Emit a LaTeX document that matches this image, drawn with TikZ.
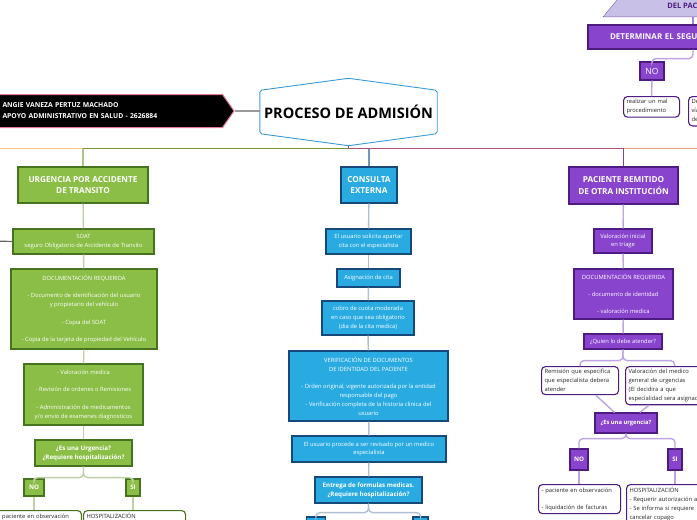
\documentclass[tikz,border=0pt]{standalone}
\usepackage{fontspec}
\setmainfont{Open Sans}
\usepackage{tikz}
\usetikzlibrary{shapes, shapes.geometric, shapes.symbols, positioning, calc}
\definecolor{verde}{RGB}{139, 190, 70}
\definecolor{verdeosc}{RGB}{72, 115, 30}
\definecolor{verdelinea}{RGB}{190, 208, 165}
\definecolor{oliva}{RGB}{122, 150, 50}
\definecolor{azul}{RGB}{41, 171, 226}
\definecolor{azulosc}{RGB}{22, 72, 122}
\definecolor{azullinea}{RGB}{176, 192, 210}
\definecolor{azulbaja}{RGB}{110, 150, 190}
\definecolor{morado}{RGB}{137, 68, 206}
\definecolor{moradoosc}{RGB}{78, 28, 128}
\definecolor{moradolinea}{RGB}{190, 165, 225}
\definecolor{moradobaja}{RGB}{120, 70, 180}
\definecolor{lavanda}{RGB}{200, 192, 230}
\definecolor{granate}{RGB}{176, 80, 110}
\definecolor{salmon}{RGB}{232, 155, 140}
\definecolor{naranja}{RGB}{247, 196, 130}
\definecolor{rosa}{RGB}{232, 120, 150}
\definecolor{borde}{RGB}{58, 154, 217}
\newcommand{\chico}{\fontsize{5.8}{8.8}\selectfont}
\newcommand{\medio}{\bfseries\fontsize{8.2}{11.5}\selectfont}

\begin{document}
\begin{tikzpicture}[x=1pt, y=-1pt,
			box/.style={rectangle, line width=1.1pt, align=center, inner sep=1pt, font=\chico, text=white},
			verdebox/.style={box, draw=verdeosc, fill=verde},
			azulbox/.style={box, draw=azulosc, fill=azul},
			moradobox/.style={box, draw=moradoosc, fill=morado},
			titbox/.style={font=\medio},
			pregunta/.style={font=\bfseries\fontsize{6.2}{9}\selectfont},
			nota/.style={rectangle, rounded corners=4pt, fill=white, line width=1.1pt, align=left,
				inner sep=3pt, font=\chico, text=black!85},
			vline/.style={line width=1.4pt},
			hline/.style={line width=1.6pt}
			]
			\useasboundingbox (0,0) rectangle (697,520);
			
			% titulo y autor
			\node[font=\bfseries\fontsize{14.5}{16}\selectfont, minimum width=177, minimum height=67] (titulo) at (348.5,112) {PROCESO DE ADMISIÓN};
			\draw[draw=borde, line width=0.9pt, rounded corners=2pt] ($(titulo.north west)+(0,12)$) -- (titulo.north) -- ($(titulo.north east)+(0,12)$)
				-- ($(titulo.south east)+(0,-12)$) -- (titulo.south) -- ($(titulo.south west)+(0,-12)$) -- cycle;
			\node[signal, signal to=east, signal pointer angle=110, fill=black, draw=rosa, line width=1pt, text=white,
				font=\bfseries\fontsize{6.8}{11}\selectfont, align=left, text width=215, inner xsep=5, minimum height=33, anchor=west] (autor) at (-3,111)
				{ANGIE VANEZA PERTUZ MACHADO\\APOYO ADMINISTRATIVO EN SALUD - 2626884};
			\draw[line width=1.2pt, black!40] (autor.east) -- (titulo.west |- autor.east);
			
			% parte superior derecha
			\node[trapezium, trapezium left angle=60, trapezium right angle=60, trapezium stretches=true, draw=moradoosc!70, fill=lavanda,
				minimum width=180, minimum height=26, anchor=south, text=moradoosc, font=\bfseries\fontsize{7.5}{9}\selectfont] (delpac) at (693,17) {\raisebox{-9pt}{DEL PACIENTE}};
			\node[moradobox, font=\bfseries\fontsize{8}{10}\selectfont, minimum width=210, minimum height=24, text width=166, inner xsep=22, align=left] (detseg) at (693,37) {DETERMINAR EL SEGUIMIENTO};
			\node[moradobox, font=\fontsize{8.5}{10}\selectfont, minimum width=24, minimum height=18] (no0) at (652,71) {NO};
			\node[nota, draw=moradoosc, text width=50, anchor=north west] (malproc) at (623,96) {realizar un mal\\procedimiento};
			\node[nota, draw=moradoosc, text width=60, anchor=north west] (otro) at (688,96) {Determinar la\\vía de atención\\del paciente};
			\draw[vline, moradobaja] (delpac) -- (detseg);
			\draw[vline, moradolinea, rounded corners=4pt] (detseg.south) -- ++(0,9) -| (no0.north);
			\draw[vline, moradolinea] (no0) -- (malproc);
			
			% columna 1
			\node[verdebox, titbox, minimum width=130, minimum height=36] (urg) at (83,185) {URGENCIA POR ACCIDENTE\\DE TRANSITO};
			\node[verdebox, minimum width=141, minimum height=25] (soat) at (83.5,241.5) {SOAT\\seguro Obligatorio de Accidente de Transito};
			\node[verdebox, minimum width=146, minimum height=80] (docreq) at (84,309) {DOCUMENTACIÓN REQUERIDA\\[8.8pt]- Documento de identificación del usuario\\y propietario del vehículo\\[8.8pt]- Copia del SOAT\\[8.8pt]- Copia de la tarjeta de propiedad del Vehículo};
			\node[verdebox, minimum width=119, minimum height=61] (valmed) at (83.5,394.5) {- Valoración medica\\[8.8pt]- Revisión de ordenes o Remisiones\\[8.8pt]- Administración de medicamentos\\y/o envio de examenes diagnosticos};
			\node[verdebox, pregunta, minimum width=97, minimum height=26] (esurg1) at (83.5,453) {¿Es una Urgencia?\\¿Requiere hospitalización?};
			\node[verdebox, pregunta, minimum width=20, minimum height=17] (no1) at (34,487.5) {NO};
			\node[verdebox, pregunta, minimum width=14, minimum height=17] (si1) at (133,487.5) {SI};
			\node[nota, draw=verdeosc, text width=80, anchor=north east] (obs1) at (82,510) {- paciente en observación\\[8.8pt]- liquidación de facturas};
			\node[nota, draw=verdeosc, text width=96, anchor=north west] (hosp1) at (83,510) {HOSPITALIZACIÓN\\- Requerir autorización};
			\coordinate (izqsoat) at (-5,241);
			\draw[line width=1.2pt, black!60] (soat.west) -- (izqsoat);
			\draw[vline, verdelinea] (urg) -- (soat);
			\draw[vline, verdelinea] (soat) -- (docreq);
			\draw[vline, verdelinea] (docreq) -- (valmed);
			\draw[vline, verdelinea] (valmed) -- (esurg1);
			\draw[vline, verdelinea, rounded corners=4pt] (esurg1.south) -- ++(0,11) -| (no1.north);
			\draw[vline, verdelinea, rounded corners=4pt] (esurg1.south) -- ++(0,11) -| (si1.north);
			\draw[vline, verdelinea] (no1.south) -- (no1.south |- obs1.north);
			\draw[vline, verdelinea] (si1.south) -- (si1.south |- hosp1.north);
			
			% columna 2
			\node[azulbox, titbox, minimum width=56, minimum height=36] (cons) at (369,185) {CONSULTA\\EXTERNA};
			\node[azulbox, minimum width=85, minimum height=25] (solic) at (368.5,241.5) {El usuario solicita apartar\\cita con el especialista};
			\node[azulbox, minimum width=63, minimum height=18] (asig) at (368.5,278) {Asignación de cita};
			\node[azulbox, minimum width=92, minimum height=34] (cobro) at (368,318) {cobro de cuota moderada\\en caso que sea obligatorio\\(dia de la cita medica)};
			\node[azulbox, minimum width=159, minimum height=70] (verif) at (368.5,386) {VERIFICACIÓN DE DOCUMENTOS\\DE IDENTIDAD DEL PACIENTE\\[8.8pt]- Orden original, vigente autorizada por la entidad\\responsable del pago\\- Verificación completa de la historia clinica del\\usuario};
			\node[azulbox, minimum width=154, minimum height=26] (revis) at (369,449) {El usuario procede a ser revisado por un medico\\especialista};
			\node[azulbox, pregunta, minimum width=107, minimum height=26] (entreg) at (368.5,490) {Entrega de formulas medicas.\\¿Requiere hospitalización?};
			\node[azulbox, pregunta, minimum width=19, minimum height=16] (no2) at (316,525) {NO};
			\node[azulbox, pregunta, minimum width=15, minimum height=16] (si2) at (420.5,525) {SI};
			\draw[vline, azullinea] (cons) -- (solic);
			\draw[vline, azullinea] (solic) -- (asig);
			\draw[vline, azullinea] (asig) -- (cobro);
			\draw[vline, azullinea] (cobro) -- (verif);
			\draw[vline, azullinea] (verif) -- (revis);
			\draw[vline, azullinea] (revis) -- (entreg);
			\draw[vline, azullinea, rounded corners=4pt] (entreg.south) -- ++(0,9) -| (no2.north);
			\draw[vline, azullinea, rounded corners=4pt] (entreg.south) -- ++(0,9) -| (si2.north);
			
			% columna 3
			\node[moradobox, titbox, minimum width=109, minimum height=37] (remit) at (623.5,185.5) {PACIENTE REMITIDO\\DE OTRA INSTITUCIÓN};
			\node[moradobox, minimum width=58, minimum height=24] (triage) at (623,241) {Valoración inicial\\en triage};
			\node[moradobox, minimum width=99, minimum height=50] (docreq3) at (623.5,294) {DOCUMENTACIÓN REQUERIDA\\[8.5pt]- documento de identidad\\[8.5pt]- valoración medica};
			\node[moradobox, minimum width=78, minimum height=15] (quien) at (623,341.5) {¿Quien lo debe atender?};
			\node[nota, draw=moradoosc, text width=71, anchor=north west] (remision) at (541,366) {Remisión que especifica\\que especialista debera\\atender};
			\node[nota, draw=moradoosc, text width=92, anchor=north west] (valgen) at (625,366) {Valoración del medico\\general de urgencias\\(El decidira a que\\especialidad sera asignado)};
			\node[moradobox, font=\bfseries\fontsize{5.8}{8}\selectfont, minimum width=62, minimum height=20] (esurg3) at (626,423) {¿Es una urgencia?};
			\node[moradobox, pregunta, minimum width=18, minimum height=21] (no3) at (579,459.5) {NO};
			\node[moradobox, pregunta, minimum width=14, minimum height=21] (si3) at (675,459.5) {SI};
			\node[nota, draw=moradoosc, text width=76, anchor=north west] (obs3) at (538,484) {- paciente en observación\\[8.5pt]- liquidación de facturas\\ };
			\node[nota, draw=moradoosc, text width=110, anchor=north west] (hosp3) at (626,484) {HOSPITALIZACIÓN\\- Requerir autorización a la EPS\\- Se informa si requiere\\cancelar copago};
			\draw[vline, moradolinea] (remit) -- (triage);
			\draw[vline, moradolinea] (triage) -- (docreq3);
			\draw[vline, moradolinea] (docreq3) -- (quien);
			\draw[vline, moradolinea, rounded corners=4pt] (quien.south) -- ++(0,11) -| (remision.north);
			\draw[vline, moradolinea, rounded corners=4pt] (quien.south) -- ++(0,11) -| (valgen.north);
			\draw[vline, moradolinea] (remision) -- (esurg3);
			\draw[vline, moradolinea] (valgen) -- (esurg3);
			\draw[vline, moradolinea, rounded corners=4pt] (esurg3.south) -- ++(0,5) -| (no3.north);
			\draw[vline, moradolinea, rounded corners=4pt] (esurg3.south) -- ++(0,5) -| (si3.north);
			\draw[vline, moradolinea] (no3.south) -- (no3.south |- obs3.north);
			\draw[vline, moradolinea] (si3.south) -- (si3.south |- hosp3.north);
			
			% linea principal
			\coordinate (hub) at (348.5,148.5);
			\coordinate (izq) at (-5,148.5);
			\coordinate (der) at (705,148.5);
			\draw[hline, granate] (titulo.south) -- (hub);
			\draw[hline, naranja] (izq) -- (urg.north |- hub);
			\draw[hline, oliva] (urg.north |- hub) -- (hub);
			\draw[hline, granate] (hub) -- (remit.north |- hub);
			\draw[hline, salmon] (remit.north |- hub) -- (der);
			\draw[vline, verdelinea!80!oliva] (urg.north |- hub) -- (urg);
			\draw[vline, azulbaja] (cons.north |- hub) -- (cons);
			\draw[vline, moradobaja] (remit.north |- hub) -- (remit);
		\end{tikzpicture}
\end{document}
